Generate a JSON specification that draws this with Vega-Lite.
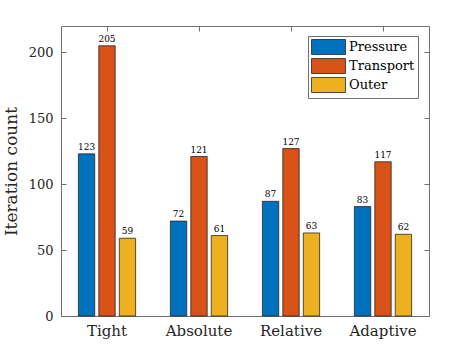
{
  "$schema": "https://vega.github.io/schema/vega-lite/v6.json",
  "width": 368,
  "height": 290,
  "autosize": {"type": "none"},
  "padding": {"left": 61, "top": 26, "right": 45, "bottom": 39},
  "background": "white",
  "config": {
    "view": {"stroke": null},
    "font": "DejaVu Serif",
    "axis": {
      "domainColor": "#707070",
      "tickColor": "#707070",
      "tickSize": -5,
      "grid": false,
      "labelColor": "#262626",
      "titleColor": "#262626",
      "labelFont": "DejaVu Serif",
      "titleFont": "DejaVu Serif",
      "titleFontWeight": "normal"
    }
  },
  "data": {
    "values": [
      {"Method": "Tight", "Series": "Pressure", "Iterations": 123},
      {"Method": "Tight", "Series": "Transport", "Iterations": 205},
      {"Method": "Tight", "Series": "Outer", "Iterations": 59},
      {"Method": "Absolute", "Series": "Pressure", "Iterations": 72},
      {"Method": "Absolute", "Series": "Transport", "Iterations": 121},
      {"Method": "Absolute", "Series": "Outer", "Iterations": 61},
      {"Method": "Relative", "Series": "Pressure", "Iterations": 87},
      {"Method": "Relative", "Series": "Transport", "Iterations": 127},
      {"Method": "Relative", "Series": "Outer", "Iterations": 63},
      {"Method": "Adaptive", "Series": "Pressure", "Iterations": 83},
      {"Method": "Adaptive", "Series": "Transport", "Iterations": 117},
      {"Method": "Adaptive", "Series": "Outer", "Iterations": 62}
    ]
  },
  "layer": [
    {
      "mark": {"type": "bar", "stroke": "#262626", "strokeWidth": 0.8},
      "encoding": {
        "x": {
          "field": "Method", "type": "nominal",
          "sort": ["Tight", "Absolute", "Relative", "Adaptive"],
          "scale": {"paddingInner": 0, "paddingOuter": 0},
          "axis": {"orient": "bottom", "title": null, "labelAngle": 0, "labelFontSize": 15, "labelPadding": 12}
        },
        "xOffset": {
          "field": "Series", "type": "nominal",
          "sort": ["Pressure", "Transport", "Outer"],
          "scale": {"paddingInner": 0.2, "paddingOuter": 0.85}
        },
        "y": {
          "field": "Iterations", "type": "quantitative",
          "scale": {"domain": [0, 220], "nice": false},
          "axis": {"orient": "left", "title": "Iteration count", "values": [0, 50, 100, 150, 200], "labelFontSize": 13, "titleFontSize": 17, "labelPadding": 13, "titlePadding": 8}
        },
        "color": {
          "field": "Series", "type": "nominal",
          "sort": ["Pressure", "Transport", "Outer"],
          "scale": {"domain": ["Pressure", "Transport", "Outer"], "range": ["#0072BD", "#D95319", "#EDB120"]},
          "legend": {
            "title": null,
            "orient": "none",
            "legendX": 247,
            "legendY": 10,
            "padding": 3,
            "strokeColor": "#707070",
            "fillColor": "white",
            "symbolType": "M-1,-1H3.53V1H-1Z",
            "symbolSize": 225,
            "symbolStrokeColor": "#262626",
            "symbolStrokeWidth": 0.8,
            "symbolOpacity": 1,
            "labelFontSize": 13,
            "labelFont": "DejaVu Serif",
            "labelColor": "#000000",
            "labelOffset": 22,
            "rowPadding": -1
          }
        }
      }
    },
    {
      "mark": {"type": "text", "baseline": "bottom", "dy": -2, "fontSize": 9, "color": "#000000"},
      "encoding": {
        "x": {
          "field": "Method", "type": "nominal",
          "sort": ["Tight", "Absolute", "Relative", "Adaptive"],
          "axis": {"orient": "top", "title": null, "labels": false}
        },
        "xOffset": {
          "field": "Series", "type": "nominal",
          "sort": ["Pressure", "Transport", "Outer"]
        },
        "y": {
          "field": "Iterations", "type": "quantitative",
          "axis": {"orient": "right", "title": null, "labels": false, "values": [0, 50, 100, 150, 200]}
        },
        "text": {"field": "Iterations", "type": "quantitative"}
      }
    }
  ],
  "resolve": {"axis": {"x": "independent", "y": "independent"}}
}
